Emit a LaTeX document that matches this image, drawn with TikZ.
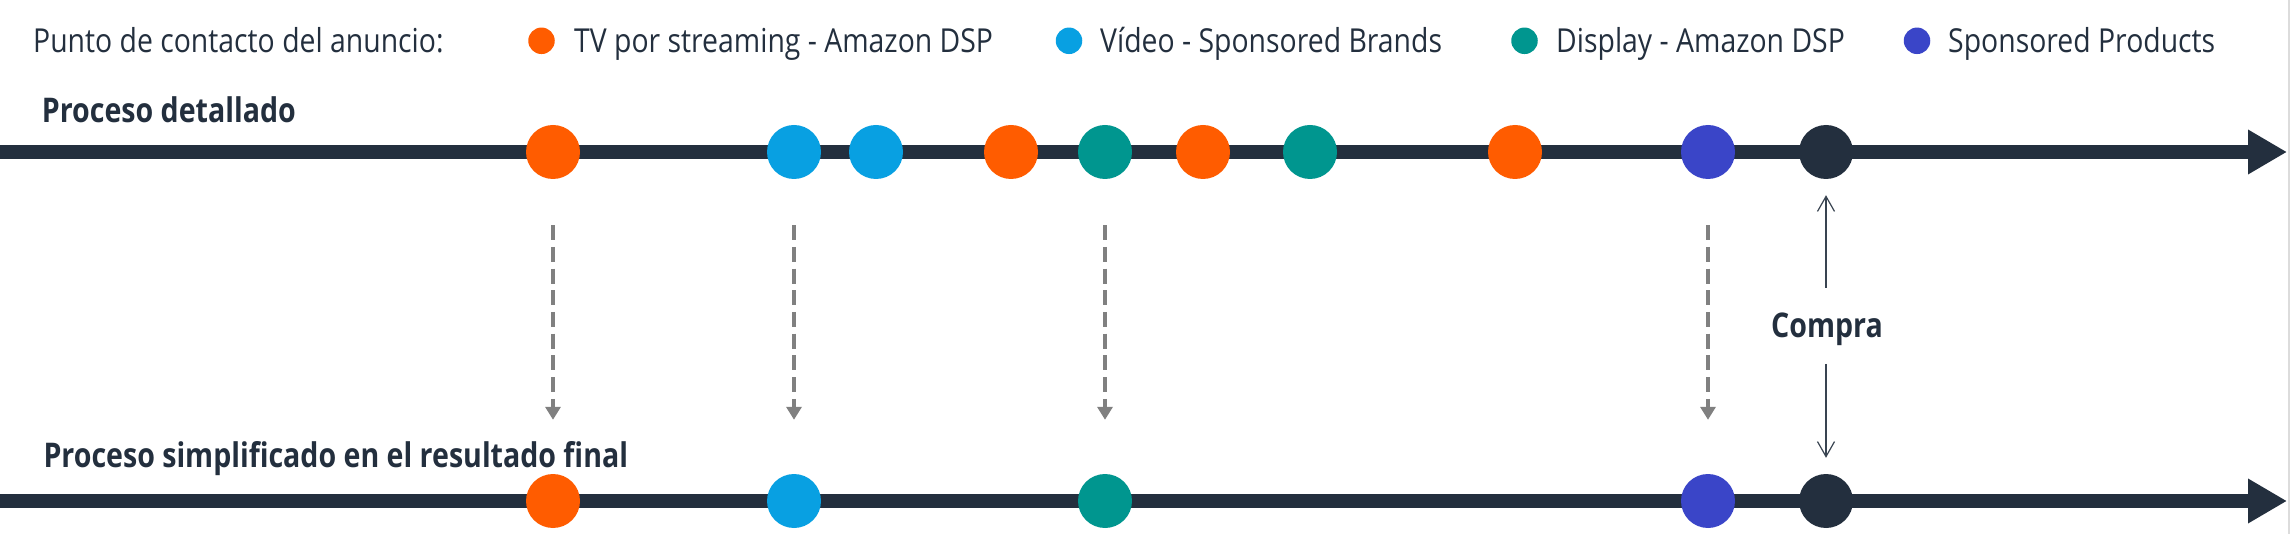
\documentclass[tikz,border=0pt]{standalone}
\usepackage{fontspec}
\setmainfont{Open Sans}[FakeStretch=0.86]
\newfontfamily\titlefont{Open Sans}[FakeStretch=0.84]
\usetikzlibrary{arrows.meta}
\definecolor{ink}{HTML}{232F3E}
\definecolor{cOrange}{HTML}{FF5C00}
\definecolor{cBlue}{HTML}{08A0E2}
\definecolor{cTeal}{HTML}{00968F}
\definecolor{cPurple}{HTML}{3A45C8}
\definecolor{cGray}{HTML}{808080}
\definecolor{cEdge}{HTML}{DCDCDC}
\begin{document}
\begin{tikzpicture}[x=1pt,y=-1pt,
  dot/.style={circle, inner sep=0pt, minimum size=54pt, fill=#1},
  legdot/.style={circle, inner sep=0pt, minimum size=26.5pt, fill=#1},
  legtext/.style={anchor=base west, inner sep=0pt, text=ink, font=\fontsize{33}{39}\selectfont},
  title/.style={anchor=base west, inner sep=0pt, text=ink, font=\titlefont\bfseries\fontsize{34}{40}\selectfont},
  timeline/.style={draw=ink, line width=14pt, -{Triangle[length=39pt,width=42pt]}},
  mapto/.style={draw=cGray, line width=4.5pt, dash pattern=on 15pt off 6.7pt, -{Triangle[length=13pt,width=15pt]}},
  buyarrow/.style={draw=ink!90, line width=1.2pt, -{Straight Barb[length=15pt,width=17pt]}}
]
\useasboundingbox (0,0) rectangle (2292,534);
\fill[white] (0,0) rectangle (2292,534);
\draw[cEdge, line width=1.5pt] (2289,0) -- (2289,534);

% legend
\node[legtext] (legtitle) at (33,52.7) {Punto de contacto del anuncio:};
\node[legdot=cOrange] (lo) at (541.5,40.8) {};
\node[legtext] (lot) at (574,52.7) {TV por streaming - Amazon DSP};
\node[legdot=cBlue] (lb) at (1069,40.8) {};
\node[legtext] (lbt) at (1100,52.7) {Vídeo - Sponsored Brands};
\node[legdot=cTeal] (lt) at (1524.5,40.8) {};
\node[legtext] (ltt) at (1556,52.7) {Display - Amazon DSP};
\node[legdot=cPurple] (lp) at (1917,40.8) {};
\node[legtext] (lpt) at (1948,52.7) {Sponsored Products};

% titles
\node[title] (t1title) at (41.7,122.7) {Proceso detallado};
\node[title] (t2title) at (43.3,467.7) {Proceso simplificado en el resultado final};

% timelines
\coordinate (s1) at (0,152);
\coordinate (e1) at (2287,152);
\coordinate (s2) at (0,501);
\coordinate (e2) at (2287,501);
\draw[timeline] (s1) -- (e1);
\draw[timeline] (s2) -- (e2);

% detailed process dots
\node[dot=cOrange] (a1) at (553,152) {};
\node[dot=cBlue]   (a2) at (794,152) {};
\node[dot=cBlue]   (a3) at (876,152) {};
\node[dot=cOrange] (a4) at (1011,152) {};
\node[dot=cTeal]   (a5) at (1105,152) {};
\node[dot=cOrange] (a6) at (1203,152) {};
\node[dot=cTeal]   (a7) at (1310,152) {};
\node[dot=cOrange] (a8) at (1515,152) {};
\node[dot=cPurple] (a9) at (1708,152) {};
\node[dot=ink]     (a10) at (1826,152) {};

% simplified process dots
\node[dot=cOrange] (b1) at (553,501) {};
\node[dot=cBlue]   (b2) at (794,501) {};
\node[dot=cTeal]   (b3) at (1105,501) {};
\node[dot=cPurple] (b4) at (1708,501) {};
\node[dot=ink]     (b5) at (1826,501) {};

% mapping arrows
\foreach \u/\v in {a1/b1, a2/b2, a5/b3, a9/b4}{
  \draw[mapto, shorten <=46pt, shorten >=54pt] (\u) -- (\v);
}

% purchase
\node[anchor=base, inner sep=0pt, text=ink, font=\titlefont\bfseries\fontsize{34}{40}\selectfont] (compra) at (1827,338) {Compra};
\coordinate (cu) at (1826,288);
\coordinate (cd) at (1826,364);
\draw[buyarrow, shorten >=16pt] (cu) -- (a10);
\draw[buyarrow, shorten >=16pt] (cd) -- (b5);
\end{tikzpicture}
\end{document}
